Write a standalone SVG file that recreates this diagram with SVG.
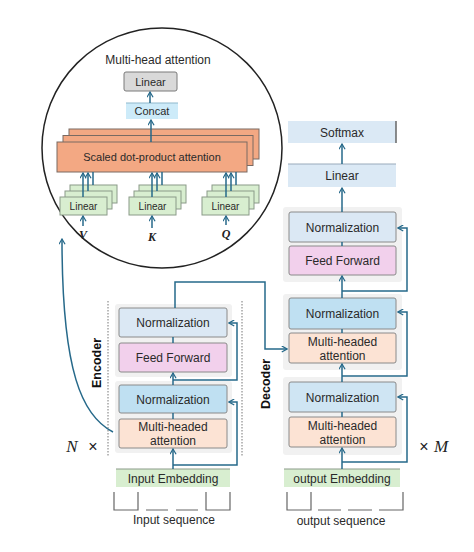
<svg xmlns="http://www.w3.org/2000/svg" width="474" height="552" viewBox="0 0 474 552">
<defs>
<style>
text{font-family:"Liberation Sans",Arial,sans-serif;fill:#2a2a2a;text-anchor:middle}
.t12{font-size:12px}
.t11{font-size:11px}
.t10{font-size:10px}
.bold{font-weight:bold;font-size:12.5px;fill:#111}
.math{font-family:"Liberation Serif","Times New Roman",serif;font-style:italic;fill:#222}
.box{stroke:#8a8a8a;stroke-width:1}
.norm1{fill:#dbe8f4}
.norm2{fill:#bfe0f2}
.norm3{fill:#cfe5f3}
.ff{fill:#f2d0ec}
.mha{fill:#fce3d4}
.green{fill:#d8eed0;stroke:#8a9a88;stroke-width:1}
.sdpa{fill:#f3a883;stroke:#7a6a62;stroke-width:1}
.bg{fill:#f1f1f1}
.con{fill:none;stroke:#26698a;stroke-width:1.5}
.seq{fill:none;stroke:#666;stroke-width:1.2}
.dot{fill:none;stroke:#777;stroke-width:1;stroke-dasharray:1.5 1.5}
</style>
<marker id="ah" viewBox="0 0 8 8" refX="7" refY="4" markerWidth="7" markerHeight="7" markerUnits="userSpaceOnUse" orient="auto">
<path d="M1,0.5 L7,4 L1,7.5" fill="none" stroke="#26698a" stroke-width="1.4"/>
</marker>
</defs>
<rect width="474" height="552" fill="#fff"/>

<g id="mha-zoom">
<circle cx="162" cy="148" r="120" fill="#fff" stroke="#222" stroke-width="1.5"/>
<text class="t12" x="158" y="64">Multi-head attention</text>
</g>
<g id="mh-linear">
<rect x="124" y="72" width="53" height="19" rx="2" fill="#d9d9d9" stroke="#7a7a7a"/>
<text class="t11" x="150.5" y="85.5">Linear</text>
</g>
<g id="mh-concat">
<rect x="126" y="103" width="52" height="16" fill="#cdebf9"/>
<line x1="126" y1="103" x2="178" y2="103" stroke="#8fb8cc"/>
<text class="t11" x="152" y="115">Concat</text>
</g>
<g id="sdpa">
<rect class="sdpa" x="69" y="129" width="190" height="30"/>
<rect class="sdpa" x="63" y="135.5" width="190" height="30"/>
<rect class="sdpa" x="57" y="142" width="190" height="30"/>
<text class="t11" x="152" y="161">Scaled dot-product attention</text>
</g>
<g id="linear-v">
<rect class="green" x="70" y="185" width="47" height="18"/>
<rect class="green" x="65" y="191" width="47" height="18"/>
<rect class="green" x="60" y="197" width="47" height="18"/>
<text class="t10" x="83.5" y="209.5">Linear</text>
</g>
<g id="linear-k">
<rect class="green" x="139" y="185" width="47" height="18"/>
<rect class="green" x="134" y="191" width="47" height="18"/>
<rect class="green" x="129" y="197" width="47" height="18"/>
<text class="t10" x="152.5" y="209.5">Linear</text>
</g>
<g id="linear-q">
<rect class="green" x="212" y="185" width="47" height="18"/>
<rect class="green" x="207" y="191" width="47" height="18"/>
<rect class="green" x="202" y="197" width="47" height="18"/>
<text class="t10" x="225.5" y="209.5">Linear</text>
</g>
<g id="vkq">
<text class="math" font-size="12" font-weight="bold" x="83" y="239">V</text>
<text class="math" font-size="12" font-weight="bold" x="152" y="241">K</text>
<text class="math" font-size="12" font-weight="bold" x="226" y="238">Q</text>
</g>

<g id="encoder">
<line class="dot" x1="108" y1="301" x2="108" y2="456"/>
<line class="dot" x1="242" y1="301" x2="242" y2="456"/>
<text class="bold" transform="translate(101,363) rotate(-90)">Encoder</text>
<text class="math" font-size="17" x="72" y="452">N</text>
<text font-size="16" x="93" y="452" style="fill:#222">×</text>
</g>
<g id="enc-block1">
<rect class="bg" x="115" y="304" width="117" height="73" rx="3"/>
<rect class="box norm1" x="119" y="308" width="108" height="29" rx="2"/>
<text class="t12" x="173" y="327">Normalization</text>
<rect class="box ff" x="119" y="343" width="108" height="29" rx="2"/>
<text class="t12" x="173" y="362">Feed Forward</text>
</g>
<g id="enc-block2">
<rect class="bg" x="115" y="381" width="117" height="72" rx="3"/>
<rect class="box norm2" x="119" y="385" width="108" height="28" rx="2"/>
<text class="t12" x="173" y="403.5">Normalization</text>
<rect class="box mha" x="119" y="419" width="108" height="29" rx="2"/>
<text class="t12" x="173" y="431">Multi-headed</text>
<text class="t12" x="173" y="445">attention</text>
</g>
<g id="input-embedding">
<rect x="116" y="469" width="114" height="18" fill="#d8eed0"/>
<line x1="116" y1="469" x2="230" y2="469" stroke="#8a9a88"/>
<text class="t12" x="173" y="482.5">Input Embedding</text>
</g>
<g id="input-sequence">
<path class="seq" d="M114,492 V510 H138 V492 M146,510 H168 M176,510 H198 M206,492 V510 H230 V492"/>
<text class="t12" x="174" y="524">Input sequence</text>
</g>

<g id="decoder-label">
<text class="bold" transform="translate(270,384) rotate(-90)">Decoder</text>
<text font-size="16" x="424" y="452" style="fill:#222">×</text>
<text class="math" font-size="17" x="441" y="452">M</text>
</g>
<g id="softmax">
<rect x="288" y="121" width="108" height="22" fill="#dbe9f5"/>
<line x1="396" y1="121" x2="396" y2="143" stroke="#666" stroke-width="1.5"/>
<text class="t12" x="342" y="136.5">Softmax</text>
</g>
<g id="dec-linear">
<rect x="288" y="164" width="108" height="23" fill="#dbe9f5"/>
<line x1="288" y1="164" x2="396" y2="164" stroke="#9ab"/>
<text class="t12" x="342" y="180">Linear</text>
</g>
<g id="dec-block1">
<rect class="bg" x="283" y="207" width="119" height="75" rx="3"/>
<rect class="box norm1" x="289" y="212" width="107" height="30" rx="2"/>
<text class="t12" x="342.5" y="231.5">Normalization</text>
<rect class="box ff" x="289" y="246" width="107" height="29" rx="2"/>
<text class="t12" x="342.5" y="265">Feed Forward</text>
</g>
<g id="dec-block2">
<rect class="bg" x="283" y="294" width="119" height="76" rx="3"/>
<rect class="box norm2" x="289" y="298" width="107" height="31" rx="2"/>
<text class="t12" x="342.5" y="318">Normalization</text>
<rect class="box mha" x="289" y="333" width="107" height="30" rx="2"/>
<text class="t12" x="342.5" y="346">Multi-headed</text>
<text class="t12" x="342.5" y="360">attention</text>
</g>
<g id="dec-block3">
<rect class="bg" x="283" y="377" width="119" height="78" rx="3"/>
<rect class="box norm3" x="289" y="382" width="107" height="30" rx="2"/>
<text class="t12" x="342.5" y="401.5">Normalization</text>
<rect class="box mha" x="289" y="417" width="107" height="30" rx="2"/>
<text class="t12" x="342.5" y="430">Multi-headed</text>
<text class="t12" x="342.5" y="444">attention</text>
</g>
<g id="output-embedding">
<rect x="284" y="469" width="116" height="18" fill="#d8eed0"/>
<line x1="284" y1="469" x2="400" y2="469" stroke="#8a9a88"/>
<text class="t12" x="342" y="482.5">output Embedding</text>
</g>
<g id="output-sequence">
<path class="seq" d="M287,492 V510 H311 V492 M318,510 H341 M348,510 H372 M379,510 H403 V492"/>
<text class="t12" x="341" y="525">output sequence</text>
</g>

<g id="connectors">
<path class="con" d="M150,103 V92" marker-end="url(#ah)"/>
<path class="con" d="M151,142 V120" marker-end="url(#ah)"/>
<path class="con" d="M83,197 V173" marker-end="url(#ah)"/>
<path class="con" d="M88,191 V173" marker-end="url(#ah)"/>
<path class="con" d="M93,185 V172"/>
<path class="con" d="M152,197 V173" marker-end="url(#ah)"/>
<path class="con" d="M157,191 V173" marker-end="url(#ah)"/>
<path class="con" d="M162,185 V172"/>
<path class="con" d="M226,197 V173" marker-end="url(#ah)"/>
<path class="con" d="M231,191 V173" marker-end="url(#ah)"/>
<path class="con" d="M236,185 V172"/>
<path class="con" d="M83,226 V216" marker-end="url(#ah)"/>
<path class="con" d="M152,228 V216" marker-end="url(#ah)"/>
<path class="con" d="M226,225 V216" marker-end="url(#ah)"/>
<path class="con" d="M113,432 C82,416 62,372 62,239" marker-end="url(#ah)"/>
<path class="con" d="M173,469 V449" marker-end="url(#ah)"/>
<path class="con" d="M173,465 H237 V402 H229" marker-end="url(#ah)"/>
<path class="con" d="M173,413 V419"/>
<path class="con" d="M173,385 V373" marker-end="url(#ah)"/>
<path class="con" d="M173,380 H237 V323 H229" marker-end="url(#ah)"/>
<path class="con" d="M173,337 V343"/>
<path class="con" d="M175,308 V282 H265 V349 H287" marker-end="url(#ah)"/>
<path class="con" d="M342,469 V448" marker-end="url(#ah)"/>
<path class="con" d="M342,462 H407 V397 H398" marker-end="url(#ah)"/>
<path class="con" d="M342,412 V417"/>
<path class="con" d="M342,382 V364" marker-end="url(#ah)"/>
<path class="con" d="M342,376 H407 V312 H398" marker-end="url(#ah)"/>
<path class="con" d="M342,329 V333"/>
<path class="con" d="M342,298 V276" marker-end="url(#ah)"/>
<path class="con" d="M342,291 H407 V228 H398" marker-end="url(#ah)"/>
<path class="con" d="M342,242 V246"/>
<path class="con" d="M342,212 V188" marker-end="url(#ah)"/>
<path class="con" d="M342,164 V144" marker-end="url(#ah)"/>
</g>
</svg>
